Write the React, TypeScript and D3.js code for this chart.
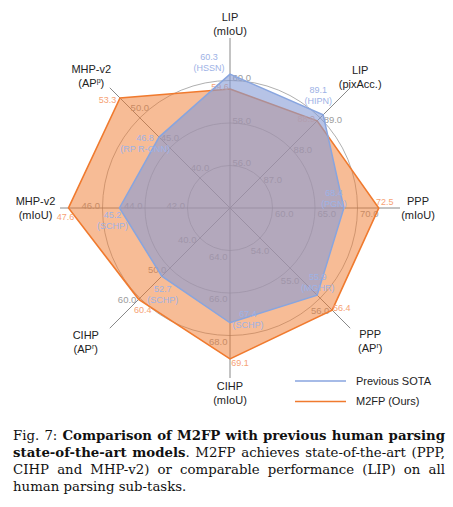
import React, { useEffect, useRef } from 'react';
import * as d3 from 'd3';

// axes go clockwise from the top
const axisNames = ['LIP', 'LIP', 'PPP', 'PPP', 'CIHP', 'CIHP', 'MHP-v2', 'MHP-v2'];
const axisMetrics = ['mIoU', 'pixAcc.', 'mIoU', 'AP', 'mIoU', 'AP', 'mIoU', 'AP'];
const axisMetricSup = ['', '', '', 'r', '', 'r', '', 'p'];
const axisTicks = [
  [56, 58, 60],
  [87, 88, 89],
  [60, 65, 70],
  [54, 55, 56],
  [64, 66, 68],
  [40, 50, 60],
  [42, 44, 46],
  [40, 45, 50],
];
const prevValues = [60.3, 89.1, 68.4, 55.9, 67.4, 52.7, 45.2, 46.8];
const prevMethods = ['HSSN', 'HIPN', 'PGN', 'MGHR', 'SCHP', 'SCHP', 'SCHP', 'RP R-CNN'];
const oursValues = [59.6, 88.9, 72.5, 56.4, 69.1, 60.4, 47.6, 53.3];
const seriesNames = ['Previous SOTA', 'M2FP (Ours)'];

const captionLines: [string, boolean][][] = [
  [['Fig. 7: ', false], ['Comparison of M2FP with previous human parsing', true]],
  [['state-of-the-art models', true], ['. M2FP achieves state-of-the-art (PPP,', false]],
  [['CIHP and MHP-v2) or comparable performance (LIP) on all', false]],
  [['human parsing sub-tasks.', false]],
];

// layout
const W = 453, H = 507;
const cx = 230, cy = 208, R = 170;
const SANS = "'Liberation Sans', Arial, Helvetica, sans-serif";
const BLUE = '#88a5df', ORANGE = '#f07a2e';

// label offsets (block centre) from each vertex / axis end
const prevOffsets = [[-21, -12], [-5, -20], [-10, -10], [0.5, -13], [18, -3], [1, 18], [-7, 12], [-14, 6]];
const oursOffsets = [[-10, -2], [-11, -2], [6, -6], [9.5, -2], [10, 4], [4, 10], [-3, 8.5], [-12.5, 2]];
const titleOffsets = [[0, -13.5], [10, -11], [18, 0], [20, 13], [0, 15], [-24, 14], [-24.5, 0], [-18.5, -12]];

const angle = (i: number) => (i * Math.PI) / 4;
const pt = (i: number, r: number): [number, number] => [cx + r * Math.sin(angle(i)), cy - r * Math.cos(angle(i))];

const scales = axisTicks.map((t) => {
  const step = t[1] - t[0];
  return d3.scaleLinear().domain([t[0] - step, t[2] + step]).range([0, R]);
});

const polyLine = d3.line().curve(d3.curveLinearClosed);

export default function App() {
  const capRef = useRef<SVGGElement>(null);

  useEffect(() => {
    const g = d3.select(capRef.current);
    g.selectAll('*').remove();
    const left = 13, right = 445, fs = 13.3;
    captionLines.forEach((segs, li) => {
      const words: { text: string; bold: boolean }[][] = [];
      let cont = false;
      segs.forEach(([t, b]) => {
        t.split(' ').forEach((p, pi) => {
          if (!p) return;
          if (pi === 0 && cont && words.length) words[words.length - 1].push({ text: p, bold: b });
          else words.push([{ text: p, bold: b }]);
        });
        cont = !t.endsWith(' ');
      });
      const y = 439.5 + li * 17;
      const nodes = words.map((w) => {
        const t = g.append('text').attr('y', y).attr('font-family', "'DejaVu Serif', serif")
          .attr('font-size', fs).attr('fill', '#111');
        w.forEach((p) => t.append('tspan').attr('font-weight', p.bold ? 'bold' : 'normal').text(p.text));
        return t;
      });
      const widths = nodes.map((n) => (n.node() as SVGTextElement).getComputedTextLength());
      const total = d3.sum(widths);
      const last = li === captionLines.length - 1;
      const gap = last ? fs * 0.318 : (right - left - total) / (words.length - 1);
      let x = left;
      nodes.forEach((n, k) => {
        n.attr('x', x);
        x += widths[k] + gap;
      });
    });
  }, []);

  const rings = axisTicks[0].map((t) => scales[0](t));
  const prevPts = prevValues.map((v, i) => pt(i, scales[i](v)));
  const oursPts = oursValues.map((v, i) => pt(i, scales[i](v)));

  return (
    <svg width={W} height={H} style={{ position: 'absolute', left: 0, top: 0, background: '#fff' }}>
      {/* grid */}
      {rings.map((r, k) => (
        <circle key={k} cx={cx} cy={cy} r={r} fill="none" stroke="#9a9a9a" strokeWidth={0.8} />
      ))}
      {axisNames.map((_, i) => {
        const [x2, y2] = pt(i, R);
        return <line key={i} x1={cx} y1={cy} x2={x2} y2={y2} stroke="#7c7c7c" strokeWidth={0.9} />;
      })}
      {axisTicks.map((ticks, i) =>
        ticks.map((t, k) => {
          const [x, y] = pt(i, scales[i](t));
          const a = angle(i) + Math.PI / 4;
          const dx = Math.sin(a), dy = -Math.cos(a);
          const anchor = dx > 0.3 ? 'start' : dx < -0.3 ? 'end' : 'middle';
          const oy = dy * (Math.abs(dy) > 0.9 ? 11.5 : 6) + 1.5;
          return (
            <text key={i + '-' + k} x={x + dx * 3.5} y={y + oy + 3.3} textAnchor={anchor}
              fontFamily={SANS} fontSize={9.5} fill="#9c9c9c">
              {t.toFixed(1)}
            </text>
          );
        })
      )}

      {/* M2FP */}
      <path d={polyLine(oursPts) as string} fill={ORANGE} fillOpacity={0.5} stroke={ORANGE} strokeWidth={1.6} />
      {oursValues.map((v, i) => {
        const [x, y] = oursPts[i];
        return (
          <text key={i} x={x + oursOffsets[i][0]} y={y + oursOffsets[i][1] + 3.2} textAnchor="middle"
            fontFamily={SANS} fontSize={9} fill="#f6a275">
            {v.toFixed(1)}
          </text>
        );
      })}

      {/* previous SOTA */}
      <path d={polyLine(prevPts) as string} fill="#869bd6" fillOpacity={0.6} stroke={BLUE} strokeWidth={1.5} />
      {prevValues.map((v, i) => {
        const [x, y] = prevPts[i];
        const bx = x + prevOffsets[i][0], by = y + prevOffsets[i][1];
        return (
          <text key={i} textAnchor="middle" fontFamily={SANS} fontSize={9} fill="#9db2e6">
            <tspan x={bx} y={by - 5.5 + 3.2}>{v.toFixed(1)}</tspan>
            <tspan x={bx} y={by + 5.5 + 3.2}>({prevMethods[i]})</tspan>
          </text>
        );
      })}

      {/* axis titles */}
      {axisNames.map((name, i) => {
        const [ex, ey] = pt(i, R);
        const x = ex + titleOffsets[i][0], y = ey + titleOffsets[i][1];
        return (
          <text key={i} textAnchor="middle" fontFamily={SANS} fontSize={11} fill="#222">
            <tspan x={x} y={y - 7 + 3.9}>{name}</tspan>
            <tspan x={x} y={y + 7 + 3.9}>
              ({axisMetrics[i]}
              {axisMetricSup[i] ? (
                <tspan fontSize={7} dy={-4}>{axisMetricSup[i]}</tspan>
              ) : null}
              {axisMetricSup[i] ? <tspan dy={4}>)</tspan> : ')'}
            </tspan>
          </text>
        );
      })}

      {/* legend */}
      {seriesNames.map((n, k) => {
        const y = 381 + k * 20.5;
        return (
          <g key={n}>
            <line x1={295} x2={346} y1={y} y2={y} stroke={k === 0 ? BLUE : ORANGE} strokeWidth={1.6} />
            <text x={356} y={y + 3.9} fontFamily={SANS} fontSize={11} fill="#222">{n}</text>
          </g>
        );
      })}

      <g ref={capRef} />
    </svg>
  );
}
